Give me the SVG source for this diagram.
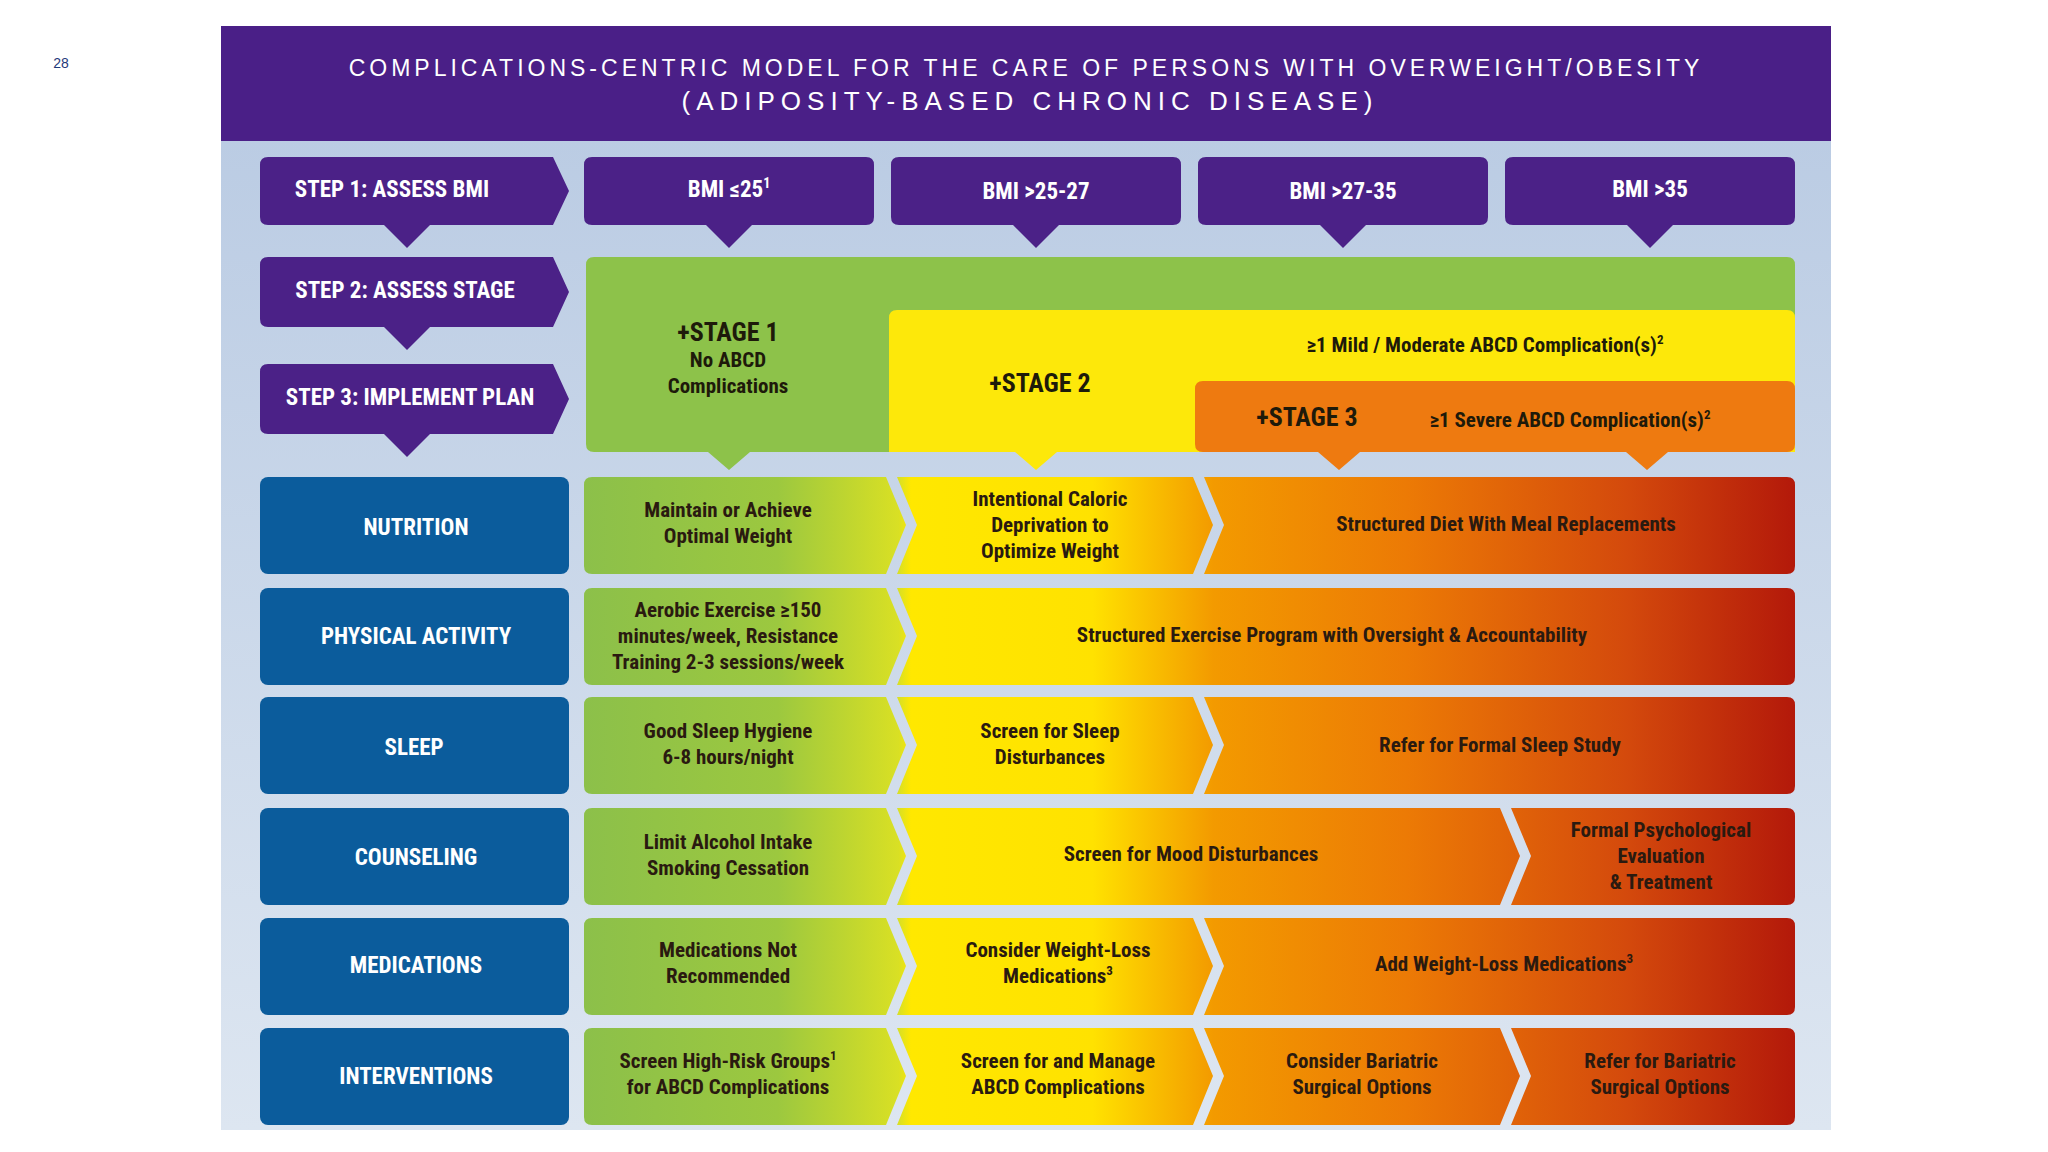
<svg xmlns="http://www.w3.org/2000/svg" width="2048" height="1152" viewBox="0 0 2048 1152">
<defs>
<linearGradient id="bg" x1="0" y1="0" x2="0" y2="1"><stop offset="0" stop-color="#b7c9e2"/><stop offset="1" stop-color="#dde6f1"/></linearGradient>
<linearGradient id="row" gradientUnits="userSpaceOnUse" x1="584" y1="0" x2="1795" y2="0">
<stop offset="0" stop-color="#8cc04a"/><stop offset="0.16" stop-color="#9cc83f"/><stop offset="0.26" stop-color="#d9e024"/>
<stop offset="0.27" stop-color="#ffe800"/><stop offset="0.42" stop-color="#ffe200"/><stop offset="0.52" stop-color="#f39a00"/>
<stop offset="0.68" stop-color="#ec7a05"/><stop offset="0.86" stop-color="#d44a0c"/><stop offset="1" stop-color="#b3190a"/></linearGradient>
<style>
.step{fill:#4b2187}
.lab{fill:#0b5c9c}
.t{font-family:"Liberation Sans Narrow","Roboto Condensed","Liberation Sans",sans-serif;font-weight:bold;text-anchor:middle}
.w{fill:#fff;font-size:23px}
.d{fill:#2a1a10;font-size:21px}
.s{fill:#1e1a0a}
</style>
</defs>
<rect width="2048" height="1152" fill="#fff"/>
<text x="61" y="68" font-family="Liberation Sans,sans-serif" font-size="14" fill="#1f3a7a" text-anchor="middle">28</text>
<rect x="221" y="26" width="1610" height="1104" fill="url(#bg)"/>
<rect x="221" y="26" width="1610" height="115" fill="#4a1f87"/>
<g id="title" font-family="Liberation Sans,sans-serif" font-size="23" fill="#fff" text-anchor="middle" letter-spacing="4">
<text x="1026" y="76">COMPLICATIONS-CENTRIC MODEL FOR THE CARE OF PERSONS WITH OVERWEIGHT/OBESITY</text>
<text x="1030" y="110" font-size="26" letter-spacing="6">(ADIPOSITY-BASED CHRONIC DISEASE)</text>
</g>
<g id="step1"><path class="step" d="M268 157H553L569 191L553 225H430L407 248L384 225H268Q260 225 260 217V165Q260 157 268 157Z"/><text class="t w" x="392" y="197">STEP 1: ASSESS BMI</text></g>
<g id="step2"><path class="step" d="M268 257H553L569 292L553 327H430L407 350L384 327H268Q260 327 260 319V265Q260 257 268 257Z"/><text class="t w" x="405" y="298">STEP 2: ASSESS STAGE</text></g>
<g id="step3"><path class="step" d="M268 364H553L569 399L553 434H430L407 457L384 434H268Q260 434 260 426V372Q260 364 268 364Z"/><text class="t w" x="410" y="405">STEP 3: IMPLEMENT PLAN</text></g>
<g id="bmi1"><path class="step" d="M592 157H866Q874 157 874 165V217Q874 225 866 225H752L729 248L706 225H592Q584 225 584 217V165Q584 157 592 157Z"/><text class="t w" x="729" y="197">BMI ≤25<tspan dy="-9" font-size="14">1</tspan></text></g>
<g id="bmi2"><path class="step" d="M899 157H1173Q1181 157 1181 165V217Q1181 225 1173 225H1059L1036 248L1013 225H899Q891 225 891 217V165Q891 157 899 157Z"/><text class="t w" x="1036" y="199">BMI &gt;25-27</text></g>
<g id="bmi3"><path class="step" d="M1206 157H1480Q1488 157 1488 165V217Q1488 225 1480 225H1366L1343 248L1320 225H1206Q1198 225 1198 217V165Q1198 157 1206 157Z"/><text class="t w" x="1343" y="199">BMI &gt;27-35</text></g>
<g id="bmi4"><path class="step" d="M1513 157H1787Q1795 157 1795 165V217Q1795 225 1787 225H1673L1650 248L1627 225H1513Q1505 225 1505 217V165Q1505 157 1513 157Z"/><text class="t w" x="1650" y="197">BMI &gt;35</text></g>
<g id="stage1"><path d="M594 257H1787Q1795 257 1795 265V452H750L729 470L708 452H594Q586 452 586 444V265Q586 257 594 257Z" fill="#8dc24a"/>
<text class="t s" x="728" y="341" font-size="26">+STAGE 1</text><text class="t s" x="728" y="367" font-size="21">No ABCD</text><text class="t s" x="728" y="393" font-size="21">Complications</text></g>
<g id="stage2"><path d="M897 310H1787Q1795 310 1795 318V452H1057L1036 470L1015 452H889V318Q889 310 897 310Z" fill="#fde80a"/>
<text class="t s" x="1040" y="392" font-size="26">+STAGE 2</text><text class="t s" x="1485" y="352" font-size="21">≥1 Mild / Moderate ABCD Complication(s)<tspan dy="-8" font-size="13">2</tspan></text></g>
<g id="stage3"><path d="M1203 381H1787Q1795 381 1795 389V444Q1795 452 1787 452H1668L1647 470L1626 452H1360L1339 470L1318 452H1203Q1195 452 1195 444V389Q1195 381 1203 381Z" fill="#ee7a10"/>
<text class="t s" x="1307" y="426" font-size="26">+STAGE 3</text><text class="t s" x="1570" y="427" font-size="21">≥1 Severe ABCD Complication(s)<tspan dy="-8" font-size="13">2</tspan></text></g>
<g id="labels">
<rect class="lab" x="260" y="477" width="309" height="97" rx="8"/><text class="t w" x="416" y="535">NUTRITION</text>
<rect class="lab" x="260" y="588" width="309" height="97" rx="8"/><text class="t w" x="416" y="644">PHYSICAL ACTIVITY</text>
<rect class="lab" x="260" y="697" width="309" height="97" rx="8"/><text class="t w" x="414" y="755">SLEEP</text>
<rect class="lab" x="260" y="808" width="309" height="97" rx="8"/><text class="t w" x="416" y="865">COUNSELING</text>
<rect class="lab" x="260" y="918" width="309" height="97" rx="8"/><text class="t w" x="416" y="973">MEDICATIONS</text>
<rect class="lab" x="260" y="1028" width="309" height="97" rx="8"/><text class="t w" x="416" y="1084">INTERVENTIONS</text>
</g>
<g id="rows" fill="url(#row)">
<!-- nutrition y477 -->
<path d="M592 477H886L906 525L886 574H592Q584 574 584 566V485Q584 477 592 477Z"/>
<path d="M897 477H1193L1213 525L1193 574H897L917 525Z"/>
<path d="M1204 477H1787Q1795 477 1795 485V566Q1795 574 1787 574H1204L1224 525Z"/>
<!-- PA y588 -->
<path d="M592 588H886L906 636L886 685H592Q584 685 584 677V596Q584 588 592 588Z"/>
<path d="M897 588H1787Q1795 588 1795 596V677Q1795 685 1787 685H897L917 636Z"/>
<!-- sleep 697 -->
<path d="M592 697H886L906 745L886 794H592Q584 794 584 786V705Q584 697 592 697Z"/>
<path d="M897 697H1193L1213 745L1193 794H897L917 745Z"/>
<path d="M1204 697H1787Q1795 697 1795 705V786Q1795 794 1787 794H1204L1224 745Z"/>
<!-- counseling 808 -->
<path d="M592 808H886L906 856L886 905H592Q584 905 584 897V816Q584 808 592 808Z"/>
<path d="M897 808H1500L1520 856L1500 905H897L917 856Z"/>
<path d="M1511 808H1787Q1795 808 1795 816V897Q1795 905 1787 905H1511L1531 856Z"/>
<!-- medications 918 -->
<path d="M592 918H886L906 966L886 1015H592Q584 1015 584 1007V926Q584 918 592 918Z"/>
<path d="M897 918H1193L1213 966L1193 1015H897L917 966Z"/>
<path d="M1204 918H1787Q1795 918 1795 926V1007Q1795 1015 1787 1015H1204L1224 966Z"/>
<!-- interventions 1028 -->
<path d="M592 1028H886L906 1076L886 1125H592Q584 1125 584 1117V1036Q584 1028 592 1028Z"/>
<path d="M897 1028H1193L1213 1076L1193 1125H897L917 1076Z"/>
<path d="M1204 1028H1500L1520 1076L1500 1125H1204L1224 1076Z"/>
<path d="M1511 1028H1787Q1795 1028 1795 1036V1117Q1795 1125 1787 1125H1511L1531 1076Z"/>
</g>
<g id="rowtext" class="t d">
<text class="t d" x="728" y="517">Maintain or Achieve</text><text class="t d" x="728" y="543">Optimal Weight</text>
<text class="t d" x="1050" y="506">Intentional Caloric</text><text class="t d" x="1050" y="532">Deprivation to</text><text class="t d" x="1050" y="558">Optimize Weight</text>
<text class="t d" x="1506" y="531">Structured Diet With Meal Replacements</text>
<text class="t d" x="728" y="617">Aerobic Exercise ≥150</text><text class="t d" x="728" y="643">minutes/week, Resistance</text><text class="t d" x="728" y="669">Training 2-3 sessions/week</text>
<text class="t d" x="1332" y="642">Structured Exercise Program with Oversight &amp; Accountability</text>
<text class="t d" x="728" y="738">Good Sleep Hygiene</text><text class="t d" x="728" y="764">6-8 hours/night</text>
<text class="t d" x="1050" y="738">Screen for Sleep</text><text class="t d" x="1050" y="764">Disturbances</text>
<text class="t d" x="1500" y="752">Refer for Formal Sleep Study</text>
<text class="t d" x="728" y="849">Limit Alcohol Intake</text><text class="t d" x="728" y="875">Smoking Cessation</text>
<text class="t d" x="1191" y="861">Screen for Mood Disturbances</text>
<text class="t d" x="1661" y="837">Formal Psychological</text><text class="t d" x="1661" y="863">Evaluation</text><text class="t d" x="1661" y="889">&amp; Treatment</text>
<text class="t d" x="728" y="957">Medications Not</text><text class="t d" x="728" y="983">Recommended</text>
<text class="t d" x="1058" y="957">Consider Weight-Loss</text><text class="t d" x="1058" y="983">Medications<tspan dy="-8" font-size="13">3</tspan></text>
<text class="t d" x="1504" y="971">Add Weight-Loss Medications<tspan dy="-8" font-size="13">3</tspan></text>
<text class="t d" x="728" y="1068">Screen High-Risk Groups<tspan dy="-8" font-size="13">1</tspan></text><text class="t d" x="728" y="1094">for ABCD Complications</text>
<text class="t d" x="1058" y="1068">Screen for and Manage</text><text class="t d" x="1058" y="1094">ABCD Complications</text>
<text class="t d" x="1362" y="1068">Consider Bariatric</text><text class="t d" x="1362" y="1094">Surgical Options</text>
<text class="t d" x="1660" y="1068">Refer for Bariatric</text><text class="t d" x="1660" y="1094">Surgical Options</text>
</g>
</svg>
